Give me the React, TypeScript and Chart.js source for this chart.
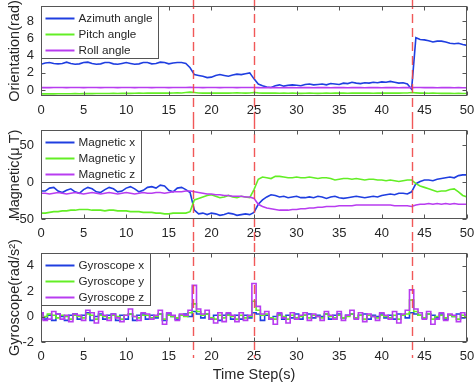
import React, { useEffect, useRef } from 'react';
import { Chart, registerables } from 'chart.js';

Chart.register(...registerables);

// ---------- DATA (sampled every 0.5 s, t = 0 … 50) ----------
const azimuthAngle = [
  3.0, 3.15, 3.2, 3.1, 3.05, 3.1, 3.25, 3.1, 3.0, 3.05,
  3.2, 3.25, 3.1, 3.0, 3.05, 3.2, 3.2, 3.05, 3.0, 3.1,
  3.2, 3.1, 3.0, 3.05, 3.2, 3.2, 3.05, 3.1, 3.25, 3.2,
  3.05, 3.15, 3.2, 3.2, 3.1, 2.6, 1.8, 1.7, 1.6, 1.45,
  1.5, 1.7, 1.8, 1.7, 1.6, 1.75, 1.85, 1.8, 1.9, 2.0,
  1.3, 0.7, 0.5, 0.35, 0.3, 0.5, 0.6, 0.45, 0.55, 0.6,
  0.55, 0.5, 0.65, 0.7, 0.6, 0.65, 0.7, 0.6, 0.75, 0.7,
  0.65, 0.8, 0.75, 0.9, 0.8, 0.75, 0.85, 0.8, 0.9, 0.85,
  0.95, 0.9, 1.0, 0.9, 0.8, 0.85, 0.7, 0.1, 6.1, 5.9,
  5.85, 5.75, 5.6, 5.7, 5.7, 5.6, 5.45, 5.4, 5.45, 5.3,
  5.2,
];
const pitchAngle = [
  -0.45, -0.45, -0.44, -0.45, -0.44, -0.43, -0.44, -0.43, -0.42, -0.43,
  -0.42, -0.41, -0.42, -0.41, -0.4, -0.41, -0.4, -0.39, -0.4, -0.39,
  -0.38, -0.39, -0.38, -0.37, -0.38, -0.37, -0.36, -0.37, -0.36, -0.35,
  -0.36, -0.35, -0.34, -0.35, -0.3, -0.25, -0.3, -0.35, -0.36, -0.35,
  -0.36, -0.37, -0.36, -0.35, -0.36, -0.35, -0.34, -0.35, -0.36, -0.35,
  -0.3, -0.34, -0.36, -0.37, -0.36, -0.37, -0.38, -0.37, -0.38, -0.37,
  -0.38, -0.39, -0.38, -0.37, -0.38, -0.39, -0.38, -0.37, -0.38, -0.37,
  -0.36, -0.37, -0.38, -0.37, -0.36, -0.37, -0.36, -0.37, -0.38, -0.37,
  -0.36, -0.37, -0.36, -0.37, -0.36, -0.35, -0.35, -0.3, -0.33, -0.36,
  -0.37, -0.38, -0.37, -0.38, -0.39, -0.38, -0.39, -0.4, -0.39, -0.4,
  -0.4,
];
const rollAngle = [
  0.28, 0.29, 0.28, 0.29, 0.3, 0.29, 0.28, 0.29, 0.3, 0.29,
  0.28, 0.29, 0.3, 0.29, 0.28, 0.29, 0.3, 0.29, 0.28, 0.29,
  0.3, 0.29, 0.28, 0.29, 0.3, 0.29, 0.28, 0.29, 0.3, 0.29,
  0.28, 0.29, 0.3, 0.29, 0.3, 0.31, 0.3, 0.29, 0.28, 0.29,
  0.3, 0.29, 0.28, 0.29, 0.3, 0.29, 0.28, 0.29, 0.3, 0.29,
  0.29, 0.28, 0.27, 0.28, 0.29, 0.28, 0.27, 0.28, 0.29, 0.28,
  0.27, 0.28, 0.29, 0.28, 0.27, 0.28, 0.29, 0.28, 0.27, 0.28,
  0.29, 0.28, 0.27, 0.28, 0.29, 0.28, 0.27, 0.28, 0.29, 0.28,
  0.27, 0.28, 0.29, 0.28, 0.27, 0.28, 0.29, 0.28, 0.3, 0.29,
  0.28, 0.29, 0.28, 0.27, 0.28, 0.29, 0.28, 0.27, 0.28, 0.27,
  0.27,
];

const magneticX = [
  -12, -12, -8, -7, -12, -14, -11, -9, -13, -15,
  -10, -7, -9, -13, -14, -10, -7, -9, -13, -12,
  -8, -6, -9, -13, -11, -7, -6, -8, -4, -5,
  -11, -13, -8, -7, -10, -14, -38, -43, -42, -44,
  -42, -43, -45, -44, -42, -43, -45, -44, -43, -44,
  -41, -30, -24, -20, -17, -18, -20, -19, -21, -20,
  -19, -21, -21, -20, -21, -19, -20, -22, -20, -19,
  -21, -22, -21, -20, -19, -20, -21, -20, -19, -20,
  -18, -17, -16, -17, -15, -15, -16, -13, -2, 1,
  3, 3, 2, 4, 5, 6, 7, 6, 9, 10,
  10,
];
const magneticY = [
  -42, -42, -41, -40, -40, -39, -39, -38, -38, -37,
  -37, -37, -38, -38, -38, -39, -38, -38, -39, -39,
  -39, -40, -40, -40, -41, -41, -41, -42, -42, -43,
  -43, -42, -42, -42, -42, -40, -24, -22, -20, -18,
  -17, -19, -21, -20, -18, -20, -21, -19, -20, -21,
  -10, 4, 7, 6, 5, 8, 8, 7, 6, 6,
  7, 6, 6, 7, 6, 5, 6, 6, 5, 3,
  4, 5, 5, 4, 5, 4, 3, 4, 4, 3,
  3, 2, 3, 2, 1, 2, 3, 3, -2, -5,
  -7, -9, -11, -13, -12, -12, -10, -9, -13, -18,
  -20,
];
const magneticZ = [
  -15, -15, -16, -15, -14, -15, -16, -15, -14, -15,
  -16, -15, -14, -15, -16, -15, -14, -15, -16, -15,
  -14, -15, -16, -15, -14, -15, -15, -14, -14, -15,
  -14, -13, -13, -13, -12, -12, -13, -14, -15, -16,
  -16, -17, -17, -18, -18, -19, -19, -19, -20, -20,
  -22, -30, -33, -35, -36, -37, -38, -38, -38, -37,
  -37, -36, -36, -35, -35, -34, -34, -33, -33, -33,
  -32, -32, -32, -32, -31, -31, -31, -31, -31, -31,
  -31, -31, -31, -32, -32, -32, -32, -33, -31, -30,
  -30, -29, -30, -29, -30, -29, -30, -29, -30, -30,
  -30,
];

const gyroX = [
  0.3, -0.2, 0.1, -0.3, 0.2, 0.0, -0.3, 0.1, 0.2, -0.2,
  0.1, 0.3, -0.3, 0.0, 0.2, -0.2, 0.1, 0.2, -0.3, 0.1,
  -0.2, 0.2, -0.3, 0.1, 0.2, -0.2, 0.1, -0.1, 0.2, -0.3,
  0.2, 0.0, -0.2, 0.1, 0.2, 0.0, 0.4, 0.2, -0.1, 0.2,
  -0.2, 0.1, -0.3, 0.1, 0.2, -0.2, 0.1, -0.2, 0.1, -0.1,
  0.3, 0.2, -0.3, 0.1, -0.2, 0.0, 0.2, -0.2, 0.1, -0.1,
  0.2, -0.2, 0.1, 0.2, -0.1, 0.1, 0.0, 0.2, -0.2, 0.1,
  0.2, -0.1, 0.1, 0.2, -0.1, 0.1, 0.2, -0.2, 0.1, 0.0,
  0.2, -0.1, 0.1, -0.2, 0.2, 0.1, -0.1, 0.3, 0.2, 0.1,
  -0.1, 0.2, 0.1, -0.1, 0.2, -0.2, 0.1, 0.0, 0.2, -0.1,
  0.1,
];
const gyroY = [
  0.1, 0.0, 0.2, 0.1, -0.1, 0.1, 0.0, -0.2, 0.1, 0.0,
  -0.1, 0.2, 0.1, -0.2, 0.1, 0.0, -0.1, 0.1, 0.0, -0.2,
  0.1, 0.2, 0.0, -0.1, 0.1, 0.1, -0.1, 0.0, 0.2, -0.2,
  0.1, 0.0, -0.1, 0.1, 0.0, 0.3, 1.0, 0.4, 0.1, 0.2,
  -0.1, -0.2, 0.1, -0.1, 0.1, 0.0, -0.2, 0.1, -0.1, 0.0,
  1.2, 0.5, 0.1, 0.2, -0.1, -0.2, 0.1, 0.0, -0.2, 0.1,
  -0.1, 0.0, 0.1, -0.1, 0.1, 0.0, -0.1, 0.2, 0.0, -0.1,
  0.1, -0.1, 0.0, 0.2, -0.1, 0.1, -0.2, 0.1, 0.0, -0.1,
  0.1, 0.0, -0.1, 0.1, -0.2, 0.1, 0.2, 1.3, 0.4, 0.1,
  -0.1, 0.2, -0.2, 0.0, 0.1, -0.1, 0.1, 0.0, -0.2, 0.1,
  0.0,
];
const gyroZ = [
  0.3, -0.3, -0.2, 0.4, 0.2, -0.2, 0.1, -0.4, 0.2, 0.1,
  -0.3, 0.5, 0.3, -0.5, 0.4, 0.1, -0.3, 0.2, -0.1, -0.4,
  0.1, 0.6, 0.0, -0.3, 0.3, 0.2, -0.2, 0.1, 0.5, -0.6,
  0.3, 0.1, -0.3, 0.2, 0.1, 0.5, 2.45, 0.6, 0.2, 0.5,
  -0.2, -0.5, 0.3, -0.4, 0.3, 0.1, -0.4, 0.3, -0.3, 0.1,
  2.6, 0.8, 0.2, 0.4, -0.2, -0.6, 0.3, -0.1, -0.5, 0.3,
  -0.2, 0.1, 0.3, -0.3, 0.2, 0.0, -0.3, 0.4, 0.1, -0.2,
  0.4, -0.3, 0.1, 0.5, -0.2, 0.3, -0.4, 0.2, 0.0, -0.3,
  0.3, 0.1, -0.2, 0.4, -0.5, 0.2, 0.5, 2.1, 0.6, 0.3,
  -0.2, 0.4, -0.6, -0.2, 0.3, -0.3, 0.2, 0.1, -0.4, 0.3,
  0.1,
];

const SAMPLE_STEP = 0.5;
const timeSeconds = azimuthAngle.map((_, i) => i * SAMPLE_STEP);
const eventTimes = [17.8, 25.0, 43.6];
const xTickValues = [0, 5, 10, 15, 20, 25, 30, 35, 40, 45, 50];
const orientationTicks = [0, 2, 4, 6, 8];
const magneticTicks = [-50, 0, 50];
const gyroTicks = [-2, 0, 2, 4];

// ---------- STYLE ----------
const FONT = "'Liberation Sans', Arial, Helvetica, sans-serif";
const BLUE = '#1f3ee0';
const GREEN = '#63ee25';
const PURPLE = '#b83cf0';
const TEXT = '#262626';
const AXIS = '#555555';

type Series = { label: string; data: number[]; color: string };
type PanelCfg = {
  top: number;
  height: number;
  padTop: number;
  axisH: number;
  yMin: number;
  yMax: number;
  yTicks: number[];
  yTitle: string;
  xTitle?: string;
  stepped: boolean;
  redTop: number;
  redBottom: number;
  series: Series[];
};

const panels: PanelCfg[] = [
  {
    top: 0, height: 120, padTop: 6, axisH: 24,
    yMin: -0.7, yMax: 9.8, yTicks: orientationTicks,
    yTitle: 'Orientation(rad)', stepped: false,
    redTop: 0, redBottom: 120,
    series: [
      { label: 'Azimuth angle', data: azimuthAngle, color: BLUE },
      { label: 'Pitch angle', data: pitchAngle, color: GREEN },
      { label: 'Roll angle', data: rollAngle, color: PURPLE },
    ],
  },
  {
    top: 120, height: 123, padTop: 10, axisH: 24,
    yMin: -50, yMax: 71, yTicks: magneticTicks,
    yTitle: 'Magnetic(μ T)', stepped: false,
    redTop: 0, redBottom: 123,
    series: [
      { label: 'Magnetic x', data: magneticX, color: BLUE },
      { label: 'Magnetic y', data: magneticY, color: GREEN },
      { label: 'Magnetic z', data: magneticZ, color: PURPLE },
    ],
  },
  {
    top: 230, height: 156, padTop: 23, axisH: 44,
    yMin: -2, yMax: 5, yTicks: gyroTicks,
    yTitle: 'Gyroscope(rad/s²)', xTitle: 'Time Step(s)', stepped: true,
    redTop: 13, redBottom: 128,
    series: [
      { label: 'Gyroscope x', data: gyroX, color: BLUE },
      { label: 'Gyroscope y', data: gyroY, color: GREEN },
      { label: 'Gyroscope z', data: gyroZ, color: PURPLE },
    ],
  },
];

function makeConfig(cfg: PanelCfg): any {
  const eventPlugin = {
    id: 'eventLines',
    afterDatasetsDraw(chart: any) {
      const { ctx, scales } = chart;
      ctx.save();
      ctx.strokeStyle = 'rgba(240, 70, 70, 0.9)';
      ctx.lineWidth = 1.4;
      ctx.setLineDash([9, 5]);
      eventTimes.forEach((t) => {
        const px = Math.round(scales.x.getPixelForValue(t)) + 0.5;
        ctx.beginPath();
        ctx.moveTo(px, cfg.redTop);
        ctx.lineTo(px, cfg.redBottom);
        ctx.stroke();
      });
      ctx.restore();
    },
  };

  const framePlugin = {
    id: 'frameAndLegend',
    afterDraw(chart: any) {
      const { ctx, chartArea, scales } = chart;
      const L = Math.round(chartArea.left) + 0.5;
      const R = Math.round(chartArea.right) - 0.5;
      const T = Math.round(chartArea.top) + 0.5;
      const B = Math.round(chartArea.bottom) - 0.5;
      ctx.save();
      ctx.strokeStyle = AXIS;
      ctx.lineWidth = 1;
      ctx.setLineDash([]);
      ctx.strokeRect(L, T, R - L, B - T);
      const tl = 4;
      ctx.beginPath();
      xTickValues.forEach((v) => {
        const px = Math.round(scales.x.getPixelForValue(v)) + 0.5;
        ctx.moveTo(px, B);
        ctx.lineTo(px, B - tl);
        ctx.moveTo(px, T);
        ctx.lineTo(px, T + tl);
      });
      cfg.yTicks.forEach((v) => {
        const py = Math.round(scales.y.getPixelForValue(v)) + 0.5;
        ctx.moveTo(L, py);
        ctx.lineTo(L + tl, py);
        ctx.moveTo(R, py);
        ctx.lineTo(R - tl, py);
      });
      ctx.stroke();

      // legend box (north-west, inside the axes)
      ctx.font = `11.7px ${FONT}`;
      const widths = cfg.series.map((s) => ctx.measureText(s.label).width);
      const w = Math.round(37 + Math.max(...widths) + 6);
      const h = 52;
      ctx.fillStyle = '#ffffff';
      ctx.fillRect(L, T, w, h);
      ctx.strokeStyle = AXIS;
      ctx.strokeRect(L, T, w, h);
      cfg.series.forEach((s, i) => {
        const yy = Math.round(T + 11 + i * 16) + 0.5;
        ctx.strokeStyle = s.color;
        ctx.lineWidth = 2;
        ctx.beginPath();
        ctx.moveTo(L + 4, yy);
        ctx.lineTo(L + 33, yy);
        ctx.stroke();
        ctx.fillStyle = TEXT;
        ctx.textBaseline = 'middle';
        ctx.textAlign = 'left';
        ctx.fillText(s.label, L + 37, yy);
      });
      ctx.restore();
    },
  };

  return {
    type: 'line',
    data: {
      datasets: cfg.series.map((s, i) => ({
        label: s.label,
        data: timeSeconds.map((t, j) => ({ x: t, y: s.data[j] })),
        borderColor: s.color,
        backgroundColor: s.color,
        borderWidth: 1.6,
        pointRadius: 0,
        fill: false,
        tension: 0,
        stepped: cfg.stepped ? 'middle' : false,
        order: 3 - i,
      })),
    },
    options: {
      animation: false,
      responsive: false,
      maintainAspectRatio: false,
      devicePixelRatio: 1,
      events: [],
      layout: { padding: { top: cfg.padTop, right: 7, left: 0, bottom: 0 } },
      plugins: { legend: { display: false }, tooltip: { enabled: false } },
      scales: {
        x: {
          type: 'linear',
          min: 0,
          max: 50,
          afterBuildTicks: (s: any) => {
            s.ticks = xTickValues.map((v) => ({ value: v }));
          },
          afterFit: (s: any) => {
            s.height = cfg.axisH;
            s.paddingLeft = 0;
            s.paddingRight = 0;
          },
          grid: { display: false, drawTicks: false },
          border: { display: false },
          ticks: {
            padding: 7,
            maxRotation: 0,
            autoSkip: false,
            color: TEXT,
            font: { family: FONT, size: 13 },
          },
          title: cfg.xTitle
            ? {
                display: true,
                text: cfg.xTitle,
                color: TEXT,
                font: { family: FONT, size: 14.5 },
                padding: { top: 0, bottom: 2 },
              }
            : { display: false },
        },
        y: {
          type: 'linear',
          min: cfg.yMin,
          max: cfg.yMax,
          afterBuildTicks: (s: any) => {
            s.ticks = cfg.yTicks.map((v) => ({ value: v }));
          },
          afterFit: (s: any) => {
            s.width = 41;
            s.paddingTop = 0;
            s.paddingBottom = 0;
          },
          grid: { display: false, drawTicks: false },
          border: { display: false },
          ticks: {
            padding: 7,
            color: TEXT,
            font: { family: FONT, size: 13 },
          },
          title: {
            display: true,
            text: cfg.yTitle,
            color: TEXT,
            font: { family: FONT, size: 14.5 },
            padding: { top: 6, bottom: 0 },
          },
        },
      },
    },
    plugins: [eventPlugin, framePlugin],
  };
}

function Panel({ cfg }: { cfg: PanelCfg }) {
  const ref = useRef<HTMLCanvasElement>(null);
  useEffect(() => {
    if (!ref.current) return;
    const chart = new Chart(ref.current, makeConfig(cfg));
    return () => chart.destroy();
  }, [cfg]);
  return (
    <canvas
      ref={ref}
      width={474}
      height={cfg.height}
      style={{ position: 'absolute', left: 0, top: cfg.top, width: 474, height: cfg.height }}
    />
  );
}

export default function App() {
  return (
    <div
      style={{
        position: 'absolute',
        left: 0,
        top: 0,
        width: 474,
        height: 386,
        background: '#ffffff',
        overflow: 'hidden',
      }}
    >
      {panels.map((p, i) => (
        <Panel key={i} cfg={p} />
      ))}
    </div>
  );
}
